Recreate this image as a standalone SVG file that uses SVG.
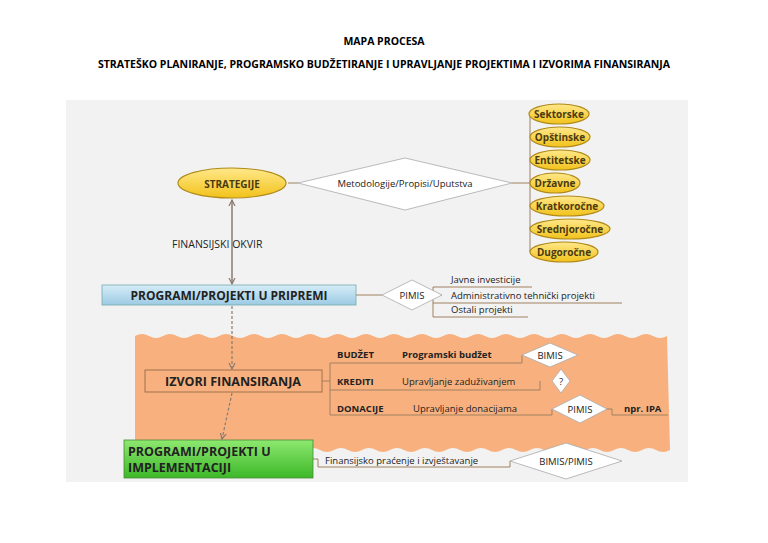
<svg xmlns="http://www.w3.org/2000/svg" width="768" height="543" viewBox="0 0 768 543">
<style>
text{font-family:"Open Sans","Noto Sans","Liberation Sans",sans-serif;fill:#222}
.t{font-weight:bold;font-size:10.5px;text-anchor:middle;fill:#000}
.s{font-size:9.5px}
.b{font-weight:bold}
.ell{fill:url(#gy);stroke:#b08a1a;stroke-width:1.2}
.et{font-weight:bold;font-size:10px;text-anchor:middle;fill:#4a3a10}
.dia{fill:#fff;stroke:#aaa;stroke-width:0.8}
.ln{stroke:#a08060;stroke-width:1;fill:none}
.ul{stroke:#aab;stroke-width:0.8;fill:none}
</style>
<defs>
<linearGradient id="gy" x1="0" y1="0" x2="0" y2="1"><stop offset="0" stop-color="#ffe88a"/><stop offset="1" stop-color="#f2c21a"/></linearGradient>
<linearGradient id="gb" x1="0" y1="0" x2="0" y2="1"><stop offset="0" stop-color="#d6ecf7"/><stop offset="1" stop-color="#9ccbe4"/></linearGradient>
<linearGradient id="gg" x1="0" y1="0" x2="0" y2="1"><stop offset="0" stop-color="#8ee870"/><stop offset="1" stop-color="#3cb828"/></linearGradient>
<marker id="ar" markerWidth="8" markerHeight="8" refX="6" refY="4" orient="auto-start-reverse" markerUnits="userSpaceOnUse"><path d="M0,1 L6,4 L0,7" fill="none" stroke="#8a7a70" stroke-width="1.2"/></marker>
</defs>
<text class="t" x="384" y="45">MAPA PROCESA</text>
<text class="t" x="384" y="68">STRATEŠKO PLANIRANJE, PROGRAMSKO BUDŽETIRANJE I UPRAVLJANJE PROJEKTIMA I IZVORIMA FINANSIRANJA</text>
<rect x="66" y="100" width="622" height="382" fill="#f2f2f2"/>
<path d="M135,336 q7,-4 14,0 t14,0 t14,0 t14,0 t14,0 t14,0 t14,0 t14,0 t14,0 t14,0 t14,0 t14,0 t14,0 t14,0 t14,0 t14,0 t14,0 t14,0 t14,0 t14,0 t14,0 t14,0 t14,0 t14,0 t14,0 t14,0 t14,0 t14,0 t14,0 t14,0 t14,0 t14,0 t14,0 t14,0 t14,0 t14,0 t14,0 t14,0 L667,336 L670,450 q-7,4 -14,0 t-14,0 t-14,0 t-14,0 t-14,0 t-14,0 t-14,0 t-14,0 t-14,0 t-14,0 t-14,0 t-14,0 t-14,0 t-14,0 t-14,0 t-14,0 t-14,0 t-14,0 t-14,0 t-14,0 t-14,0 t-14,0 t-14,0 t-14,0 t-14,0 t-14,0 t-14,0 t-14,0 t-14,0 t-14,0 t-14,0 t-14,0 t-14,0 t-14,0 t-14,0 t-14,0 t-14,0 t-14,0 L135,450 Z" fill="#f8b17e"/>
<g id="connectors">
<line x1="232" y1="200" x2="232" y2="284" stroke="#8a7a70" stroke-width="1.5" marker-start="url(#ar)" marker-end="url(#ar)"/>
<line x1="232" y1="306" x2="232" y2="369" stroke="#8a7a70" stroke-width="1.2" stroke-dasharray="3,2" marker-end="url(#ar)"/>
<line x1="232" y1="393" x2="222" y2="439" stroke="#8a7a70" stroke-width="1.2" stroke-dasharray="3,2" marker-end="url(#ar)"/>
<path class="ln" d="M288,183 H298 M512,183 H530 M530,114 V252 M530,114 H530 M530,137 H530"/>
<path class="ln" d="M356,295 H382 M442,295 H433 M433,287 V317 M433,287 H532 M433,303 H622 M433,317 H528"/>
<path class="ln" d="M322,381 H330 M330,363 V415 M330,363 H522 V355 M330,390 H540 V381 M330,415 H552 V409 M607,409 H612 V415 H668"/>
<path class="ln" d="M313,459 H318 V467 H510 V461"/>
</g>
<g id="strategije"><ellipse class="ell" cx="232" cy="183" rx="54" ry="15"/><text x="232" y="187.5" font-size="13" class="et">STRATEGIJE</text></g>
<g id="metod"><polygon class="dia" points="298,183 405,158 512,183 405,210"/><text class="s" x="405" y="187" text-anchor="middle">Metodologije/Propisi/Uputstva</text></g>
<g id="levels">
<ellipse class="ell" cx="559" cy="114" rx="30" ry="10"/><text class="et" x="559" y="117.5">Sektorske</text>
<ellipse class="ell" cx="560" cy="137" rx="30" ry="10"/><text class="et" x="560" y="140.5">Opštinske</text>
<ellipse class="ell" cx="560" cy="160" rx="30" ry="10"/><text class="et" x="560" y="163.5">Entitetske</text>
<ellipse class="ell" cx="555" cy="183" rx="25" ry="10"/><text class="et" x="555" y="186.5">Državne</text>
<ellipse class="ell" cx="567" cy="206" rx="37" ry="10"/><text class="et" x="567" y="209.5">Kratkoročne</text>
<ellipse class="ell" cx="570" cy="229" rx="40" ry="10"/><text class="et" x="570" y="232.5">Srednjoročne</text>
<ellipse class="ell" cx="564" cy="252" rx="34" ry="10"/><text class="et" x="564" y="255.5">Dugoročne</text>
</g>
<text x="172" y="248" font-size="10.5">FINANSIJSKI OKVIR</text>
<g id="pripremi"><rect x="102" y="285" width="254" height="20" fill="url(#gb)" stroke="#7aa" stroke-width="0.8"/><text x="229" y="299.5" font-size="12" font-weight="bold" text-anchor="middle" fill="#333">PROGRAMI/PROJEKTI U PRIPREMI</text></g>
<g id="pimis1"><polygon class="dia" points="382,295 412,280 442,295 412,310"/><text class="s" x="412" y="298.5" text-anchor="middle">PIMIS</text></g>
<g id="proj"><text class="s" x="451" y="283">Javne investicije</text><text class="s" x="451" y="299">Administrativno tehnički projekti</text><text class="s" x="451" y="313">Ostali projekti</text></g>
<g id="izvori"><rect x="145" y="370" width="177" height="22" fill="none" stroke="#a07050" stroke-width="1"/><text x="233" y="386" font-size="12.5" font-weight="bold" text-anchor="middle" fill="#444">IZVORI FINANSIRANJA</text></g>
<g id="budzet"><text class="s b" x="337" y="358">BUDŽET</text><text class="s b" x="402" y="358">Programski budžet</text>
<polygon class="dia" points="522,355 550,343 578,355 550,367"/><text class="s" x="550" y="358.5" text-anchor="middle">BIMIS</text></g>
<g id="krediti"><text class="s b" x="337" y="385">KREDITI</text><text class="s" x="402" y="385">Upravljanje zaduživanjem</text>
<polygon class="dia" points="552,381 561,369 570,381 561,393"/><text class="s" x="561" y="384.5" text-anchor="middle">?</text></g>
<g id="donacije"><text class="s b" x="337" y="412">DONACIJE</text><text class="s" x="413" y="412">Upravljanje donacijama</text>
<polygon class="dia" points="552,409 580,395 607,409 580,423"/><text class="s" x="580" y="412.5" text-anchor="middle">PIMIS</text><text class="s b" x="624" y="412">npr. IPA</text></g>
<g id="implementacija"><rect x="124" y="440" width="189" height="38" fill="url(#gg)" stroke="#4a8a3a" stroke-width="0.8"/><text x="128" y="456" font-size="12.5" font-weight="bold" fill="#333">PROGRAMI/PROJEKTI U</text><text x="128" y="472" font-size="12.5" font-weight="bold" fill="#333">IMPLEMENTACIJI</text></g>
<g id="pracenje"><text class="s" x="325" y="464">Finansijsko praćenje i izvještavanje</text>
<polygon class="dia" points="510,461 566,443 622,461 566,479"/><text class="s" x="566" y="464.5" text-anchor="middle">BIMIS/PIMIS</text></g>
</svg>
